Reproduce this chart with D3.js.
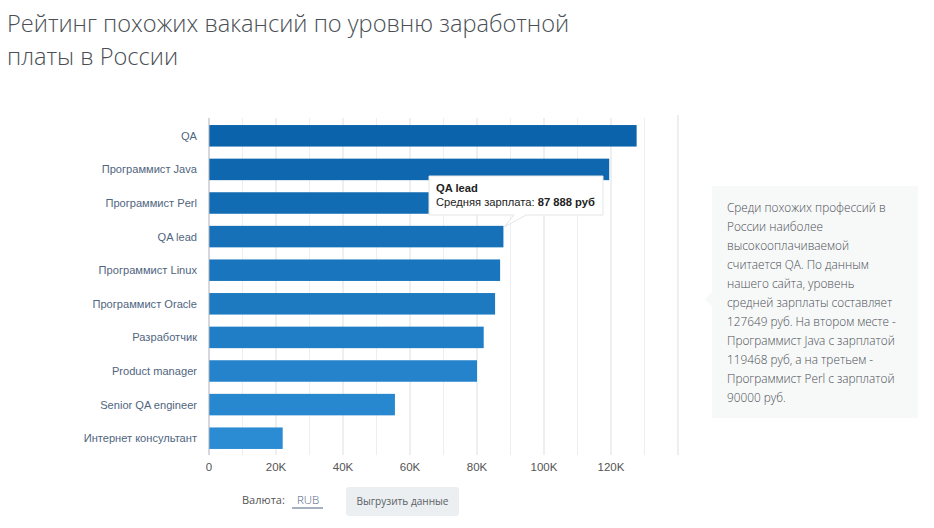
<!DOCTYPE html>
<html>
<head>
<meta charset="utf-8">
<script src="https://cdnjs.cloudflare.com/ajax/libs/d3/7.8.5/d3.min.js"></script>
<style>
  html, body { margin: 0; padding: 0; background: #fff; }
  svg { display: block; }
  .title { font-family: "Open Sans", sans-serif; font-weight: 300; font-size: 23.6px; fill: #4a4f55; }
  .cat { font-family: "Liberation Sans", Arial, sans-serif; font-size: 11.1px; fill: #4f6580; }
  .tick-label { font-family: "Liberation Sans", Arial, sans-serif; font-size: 11.5px; fill: #555; }
  .side { font-family: "Open Sans", sans-serif; font-weight: 300; font-size: 11.8px; fill: #4a4f55; }
  .ui { font-family: "Open Sans", sans-serif; font-size: 11px; fill: #555; }
  .btn { font-family: "Open Sans", sans-serif; font-size: 10.1px; fill: #5c6166; }
  .rub { font-family: "Open Sans", sans-serif; font-weight: 300; font-size: 11.5px; fill: #4f6580; }
  .tip { font-family: "Liberation Sans", Arial, sans-serif; font-size: 11.2px; fill: #222; }
</style>
</head>
<body>
<div id="frame_div"></div>
<script>
// Chart data
const categories = ["QA", "Программист Java", "Программист Perl", "QA lead", "Программист Linux",
  "Программист Oracle", "Разработчик", "Product manager", "Senior QA engineer", "Интернет консультант"];
const salaries = [127649, 119468, 90000, 87888, 86900, 85400, 82000, 80000, 55500, 22000];
const majorTicks = [0, 20000, 40000, 60000, 80000, 100000, 120000];
const minorTicks = [10000, 30000, 50000, 70000, 90000, 110000, 130000, 140000];
const titleLines = ["Рейтинг похожих вакансий по уровню заработной", "платы в России"];
const sideLines = ["Среди похожих профессий в", "России наиболее", "высокооплачиваемой",
  "считается QA. По данным", "нашего сайта, уровень", "средней зарплаты составляет",
  "127649 руб. На втором месте -", "Программист Java с зарплатой", "119468 руб, а на третьем -",
  "Программист Perl с зарплатой", "90000 руб."];

const FRAME_WIDTH = 934;
const FRAME_HEIGHT = 528;

const FRAME = d3.select("#frame_div")
  .append("svg")
    .attr("width", FRAME_WIDTH)
    .attr("height", FRAME_HEIGHT);

// Scales
const X_SCALE = d3.scaleLinear().domain([0, 140000]).range([209, 678]);
const Y_SCALE = d3.scaleBand().domain(categories).range([119, 455]).paddingInner(0.36).paddingOuter(0.18);
const COLOR = d3.scaleLinear().domain([0, categories.length - 1]).range(["#0b63ab", "#2b8cd3"]);

// Title
FRAME.selectAll(".title")
  .data(titleLines)
  .enter().append("text")
    .attr("class", "title")
    .attr("x", 7)
    .attr("y", (d, i) => 32 + i * 33)
    .text(d => d);

// Grid lines
FRAME.selectAll(".minor")
  .data(minorTicks)
  .enter().append("line")
    .attr("x1", d => X_SCALE(d)).attr("x2", d => X_SCALE(d))
    .attr("y1", d => d === 140000 ? 115 : 118).attr("y2", 455)
    .attr("stroke", d => d === 140000 ? "#d9dde0" : "#eceef0");

FRAME.selectAll(".major")
  .data(majorTicks.slice(1))
  .enter().append("line")
    .attr("x1", d => X_SCALE(d)).attr("x2", d => X_SCALE(d))
    .attr("y1", 118).attr("y2", 455)
    .attr("stroke", "#dcdfe2");

// Bars
FRAME.selectAll(".bar")
  .data(salaries)
  .enter().append("rect")
    .attr("x", X_SCALE(0))
    .attr("y", (d, i) => Y_SCALE(categories[i]))
    .attr("width", d => X_SCALE(d) - X_SCALE(0))
    .attr("height", Y_SCALE.bandwidth())
    .attr("fill", (d, i) => COLOR(i));

// Zero line
FRAME.append("line")
  .attr("x1", X_SCALE(0)).attr("x2", X_SCALE(0))
  .attr("y1", 118).attr("y2", 455)
  .attr("stroke", "#aab2bb");

// Category labels
FRAME.selectAll(".cat")
  .data(categories)
  .enter().append("text")
    .attr("class", "cat")
    .attr("x", 197)
    .attr("y", d => Y_SCALE(d) + Y_SCALE.bandwidth() / 2 + 4)
    .attr("text-anchor", "end")
    .text(d => d);

// Axis labels
FRAME.selectAll(".tick-label")
  .data(majorTicks)
  .enter().append("text")
    .attr("class", "tick-label")
    .attr("x", d => X_SCALE(d))
    .attr("y", 471)
    .attr("text-anchor", "middle")
    .text(d => d === 0 ? "0" : (d / 1000) + "K");

// Tooltip for QA lead
const tip = FRAME.append("g");
const tipX = X_SCALE(salaries[3]);
const tipY = Y_SCALE(categories[3]);
tip.append("path")
  .attr("d", `M429,176 H603 V215 H526 L${tipX + 1},${tipY + 1} L514,215 H429 Z`)
  .attr("fill", "#fff")
  .attr("stroke", "#e3e5e7");
tip.append("text").attr("class", "tip").attr("x", 436).attr("y", 192)
  .attr("font-weight", "bold").text(categories[3]);
const tipLine = tip.append("text").attr("class", "tip").attr("x", 436).attr("y", 206);
tipLine.append("tspan").text("Средняя зарплата: ");
tipLine.append("tspan").attr("font-weight", "bold").text(d3.format(",")(salaries[3]).replace(",", " ") + " руб");

// Side panel
FRAME.append("path")
  .attr("d", "M712,186 H918 V418 H712 V306 L705,299 L712,292 Z")
  .attr("fill", "#f7f8f8");
FRAME.selectAll(".side")
  .data(sideLines)
  .enter().append("text")
    .attr("class", "side")
    .attr("x", 727)
    .attr("y", (d, i) => 212 + i * 19)
    .text(d => d);

// Currency and export button
FRAME.append("text").attr("class", "ui").attr("x", 242).attr("y", 504).text("Валюта:");
FRAME.append("text").attr("class", "rub").attr("x", 297).attr("y", 504).text("RUB");
FRAME.append("line").attr("x1", 292).attr("x2", 323).attr("y1", 508).attr("y2", 508).attr("stroke", "#4f6580");
FRAME.append("rect").attr("x", 346).attr("y", 487).attr("width", 113).attr("height", 29).attr("rx", 3).attr("fill", "#ebeff1");
FRAME.append("text").attr("class", "btn").attr("x", 402.5).attr("y", 505).attr("text-anchor", "middle")
  .text("Выгрузить данные");
</script>
</body>
</html>
